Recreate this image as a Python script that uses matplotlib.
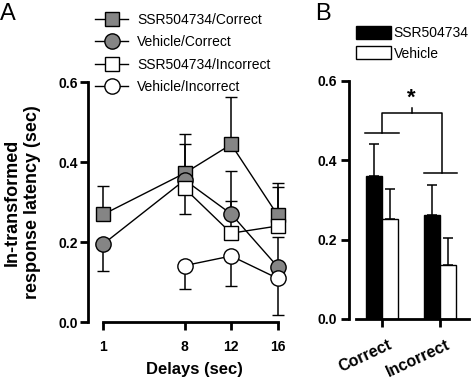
import numpy as np
import matplotlib.pyplot as plt
import matplotlib.transforms as mtransforms
from matplotlib.lines import Line2D
from matplotlib.patches import Patch

plt.rcParams['font.family'] = ['Liberation Sans', 'DejaVu Sans']

# panel A data
delays = [1, 8, 12, 16]
ssr_correct = [0.269, 0.372, 0.444, 0.267]
ssr_correct_hi = [0.072, 0.098, 0.118, 0.08]
veh_correct = [0.195, 0.355, 0.27, 0.138]
veh_correct_lo = [0.067, 0, 0, 0]
veh_correct_hi = [0, 0.089, 0.108, 0.075]
delays_inc = [8, 12, 16]
ssr_incorrect = [0.334, 0.222, 0.24]
ssr_incorrect_lo = [0.065, 0, 0]
ssr_incorrect_hi = [0, 0.08, 0.098]
veh_incorrect = [0.141, 0.165, 0.109]
veh_incorrect_lo = [0.059, 0.075, 0.092]

# panel B data
groups = ['Correct', 'Incorrect']
ssr_bar = [0.36, 0.262]
ssr_bar_err = [0.08, 0.075]
veh_bar = [0.252, 0.136]
veh_bar_err = [0.075, 0.068]

gray = '#858585'
fig = plt.figure(figsize=(4.74, 3.81), dpi=100)

# ---------------- A
axA = fig.add_axes([88/474, 59/381, 202/474, 240/381])
ek = dict(ecolor='black', elinewidth=1.1, capsize=4.5, capthick=1.1)
z = np.zeros(4)
axA.errorbar(delays, ssr_correct, yerr=[z, ssr_correct_hi], fmt='-s', color='black',
             mfc=gray, mec='black', ms=10, mew=1, lw=1, **ek)
axA.errorbar(delays, veh_correct, yerr=[veh_correct_lo, veh_correct_hi], fmt='-o', color='black',
             mfc=gray, mec='black', ms=11, mew=1, lw=1, **ek)
axA.errorbar(delays_inc, ssr_incorrect, yerr=[ssr_incorrect_lo, ssr_incorrect_hi], fmt='-s', color='black',
             mfc='white', mec='black', ms=10, mew=1, lw=1, **ek)
axA.errorbar(delays_inc, veh_incorrect, yerr=[veh_incorrect_lo, np.zeros(3)], fmt='-o', color='black',
             mfc='white', mec='black', ms=11, mew=1, lw=1, **ek)

axA.set_xlim(-0.316, 17.06)
axA.set_ylim(0, 0.6)
for s in ['top', 'right']:
    axA.spines[s].set_visible(False)
axA.spines['left'].set_linewidth(2)
axA.spines['bottom'].set_linewidth(2)
axA.spines['bottom'].set_bounds(1, 16)
axA.set_xticks(delays)
axA.set_yticks([0, 0.2, 0.4, 0.6])
axA.set_yticklabels(['0.0', '0.2', '0.4', '0.6'])
axA.tick_params(axis='both', width=2, length=6, labelsize=10)
axA.tick_params(axis='x', pad=7)
axA.tick_params(axis='y', pad=1.5)
for lab in axA.get_xticklabels() + axA.get_yticklabels():
    lab.set_fontweight('bold')
axA.set_ylabel('ln-transformed\nresponse latency (sec)', fontsize=13, fontweight='bold')
axA.yaxis.set_label_coords(-0.235, 0.5)
axA.set_xlabel('Delays (sec)', fontsize=12, fontweight='bold')
axA.xaxis.set_label_coords(0.527, -0.168)

handles = [
    Line2D([], [], color='black', lw=1, marker='s', mfc=gray, mec='black', ms=10),
    Line2D([], [], color='black', lw=1, marker='o', mfc=gray, mec='black', ms=11),
    Line2D([], [], color='black', lw=1, marker='s', mfc='white', mec='black', ms=10),
    Line2D([], [], color='black', lw=1, marker='o', mfc='white', mec='black', ms=11),
]
labels = ['SSR504734/Correct', 'Vehicle/Correct', 'SSR504734/Incorrect', 'Vehicle/Incorrect']
fig.legend(handles, labels, loc='upper left', bbox_to_anchor=(95/474, 1 - 13/381),
           frameon=False, fontsize=10, handlelength=2.4, handletextpad=0.65,
           labelspacing=0.6, borderpad=0, borderaxespad=0)

fig.text(0.0, 1 - 3/381, 'A', fontsize=17, va='top', ha='left')

# ---------------- B
axB = fig.add_axes([349/474, 62/381, 125/474, 238.5/381])
x = np.arange(len(groups))
w = 0.28
axB.bar(x - w/2, ssr_bar, w, color='black', edgecolor='black', linewidth=1,
        yerr=[np.zeros(2), ssr_bar_err], capsize=3.5,
        error_kw=dict(elinewidth=1.1, capthick=1.1, ecolor='black'))
axB.bar(x + w/2, veh_bar, w, color='white', edgecolor='black', linewidth=1,
        yerr=[np.zeros(2), veh_bar_err], capsize=3.5,
        error_kw=dict(elinewidth=1.1, capthick=1.1, ecolor='black'))

# significance bracket
bk = dict(color='black', lw=1.1, clip_on=False)
axB.plot([-0.29, 0.29], [0.468, 0.468], **bk)
axB.plot([0.72, 1.3], [0.367, 0.367], **bk)
axB.plot([0, 0, 1.03, 1.03], [0.468, 0.518, 0.518, 0.367], **bk)
axB.plot([0.51, 0.51], [0.518, 0.531], **bk)
axB.text(0.51, 0.528, '*', fontsize=16, fontweight='bold', ha='center', va='bottom')

axB.set_xlim(-0.569, 1.586)
axB.set_ylim(0, 0.6)
for s in ['top', 'right']:
    axB.spines[s].set_visible(False)
axB.spines['left'].set_linewidth(2)
axB.spines['bottom'].set_linewidth(2)
axB.spines['bottom'].set_bounds(-0.45, 1.5)
axB.set_xticks(x)
axB.set_xticklabels(groups, rotation=25, ha='right', va='top', rotation_mode='anchor',
                    fontsize=11.5)
axB.set_yticks([0, 0.2, 0.4, 0.6])
axB.set_yticklabels(['0.0', '0.2', '0.4', '0.6'])
axB.tick_params(axis='both', width=2, length=6)
axB.tick_params(axis='y', pad=3, labelsize=10)
axB.tick_params(axis='x', pad=7)
shift = mtransforms.ScaledTranslation(6/100, 0, fig.dpi_scale_trans)
for lab in axB.get_xticklabels():
    lab.set_transform(lab.get_transform() + shift)
for lab in axB.get_xticklabels() + axB.get_yticklabels():
    lab.set_fontweight('bold')

fig.legend([Patch(facecolor='black', edgecolor='black'), Patch(facecolor='white', edgecolor='black')],
           ['SSR504734', 'Vehicle'], loc='upper left', bbox_to_anchor=(356/474, 1 - 26/381),
           frameon=False, fontsize=10, handlelength=2.5, handleheight=1.05, handletextpad=0.2,
           labelspacing=0.45, borderpad=0, borderaxespad=0)

fig.text(315/474, 1 - 3/381, 'B', fontsize=17, va='top', ha='left')

fig.savefig('out.png', dpi=100)
